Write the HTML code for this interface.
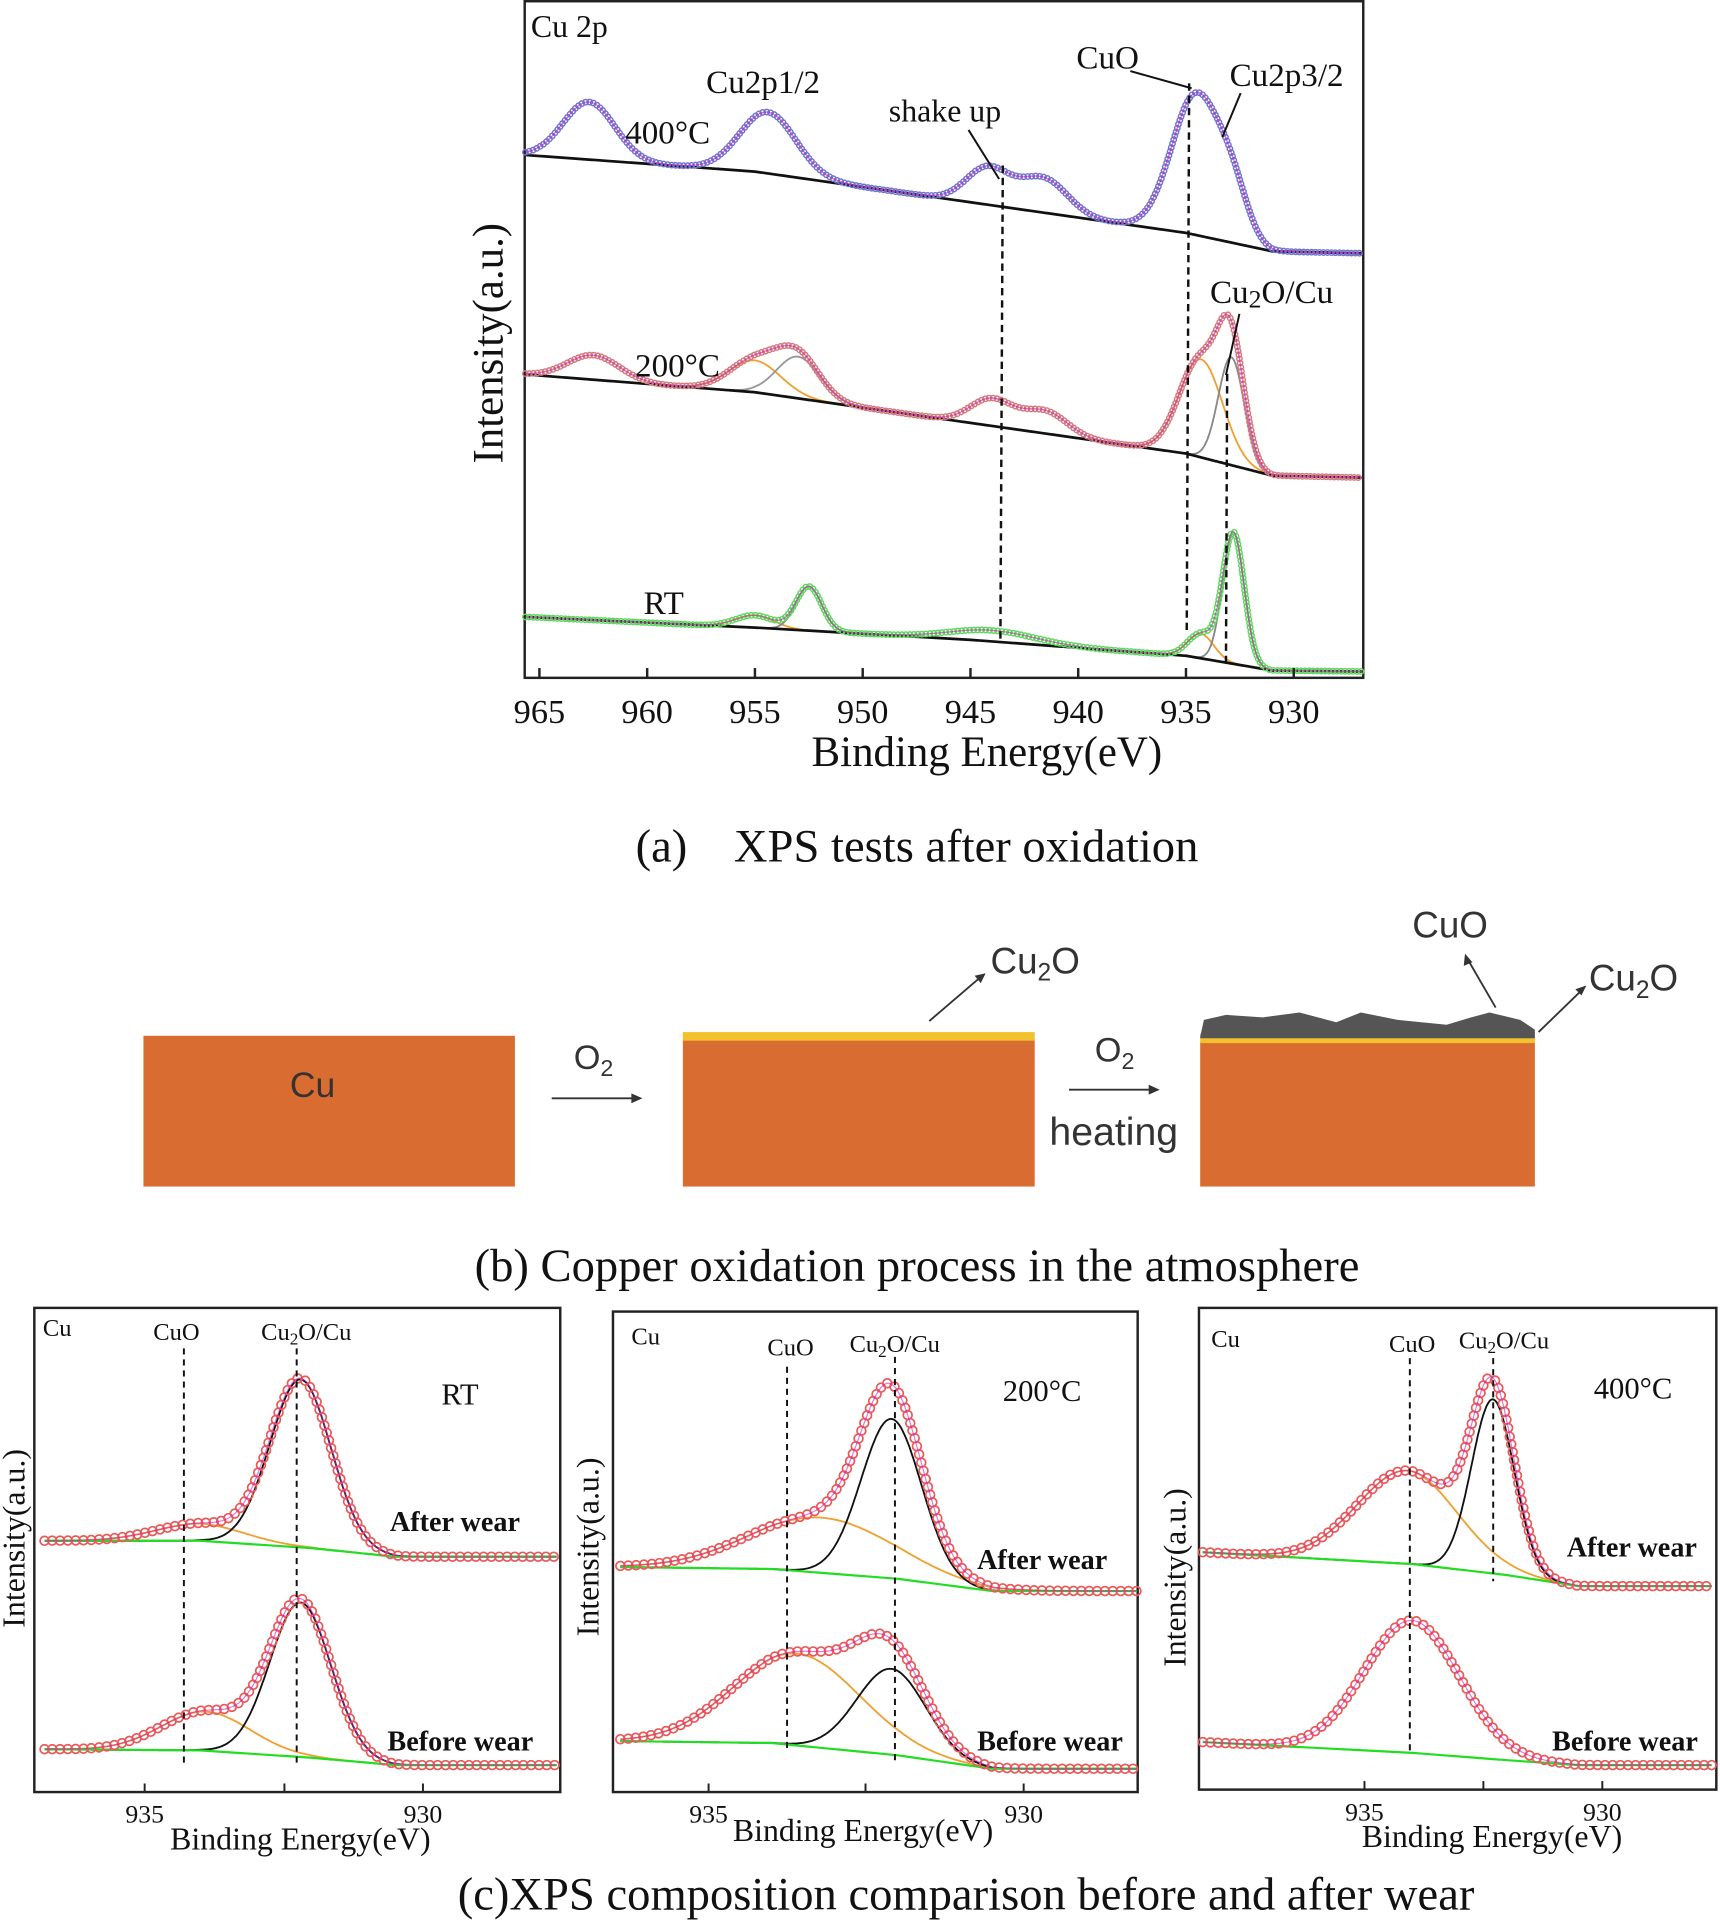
<!DOCTYPE html>
<html><head><meta charset="utf-8"><style>
html,body{margin:0;padding:0;background:#fff}
svg{display:block}
text{font-family:"Liberation Serif",serif;fill:#111}
.s{font-family:"Liberation Sans",sans-serif;fill:#333}
</style></head><body>
<svg id="c" width="1720" height="1922" viewBox="0 0 1403 1568" preserveAspectRatio="none" xmlns="http://www.w3.org/2000/svg">
<rect x="428" y="1" width="684" height="552" fill="none" stroke="#222" stroke-width="2"/>
<g id="ga"></g>
<text x="433" y="30" font-size="26">Cu 2p</text>
<text x="576" y="76" font-size="27">Cu2p1/2</text>
<text x="510" y="117" font-size="27">400°C</text>
<text x="725" y="99" font-size="26">shake up</text>
<text x="878" y="56" font-size="27">CuO</text>
<text x="1003" y="70" font-size="27">Cu2p3/2</text>
<text x="987" y="247" font-size="27">Cu<tspan font-size="21" dy="4">2</tspan><tspan dy="-4">O/Cu</tspan></text>
<text x="518" y="307" font-size="27">200°C</text>
<text x="525" y="501" font-size="27">RT</text>
<g stroke="#111" stroke-width="1.6" fill="none">
<line x1="790" y1="106" x2="815" y2="146"/>
<line x1="922" y1="58" x2="972" y2="72"/>
<line x1="1012" y1="76" x2="997" y2="112"/>
<line x1="1011" y1="256" x2="1000" y2="306"/>
</g>
<g stroke="#111" stroke-width="2" stroke-dasharray="6,4">
<line x1="818" y1="135" x2="816" y2="525"/>
<line x1="970" y1="68" x2="968" y2="518"/>
<line x1="1001" y1="305" x2="1000" y2="545"/>
</g>
<g id="ta" font-size="28"></g>
<text x="805" y="625" font-size="35" text-anchor="middle">Binding Energy(eV)</text>
<text transform="translate(410,280) rotate(-90)" font-size="35" text-anchor="middle">Intensity(a.u.)</text>
<text x="748" y="703" font-size="38" text-anchor="middle" xml:space="preserve">(a)    XPS tests after oxidation</text>

<rect x="117" y="845" width="303" height="123" fill="#d96c30"/>
<text class="s" x="255" y="895" font-size="29" text-anchor="middle">Cu</text>
<line x1="450" y1="896" x2="518" y2="896" stroke="#333" stroke-width="1.5"/><polygon points="524,896 515,892 515,900" fill="#333"/>
<text class="s" x="468" y="872" font-size="28">O<tspan font-size="19" dy="6">2</tspan></text>
<rect x="557" y="848" width="287" height="120" fill="#d96c30"/>
<rect x="557" y="842" width="287" height="7" fill="#f2c12e"/>
<line x1="758" y1="833" x2="800" y2="797" stroke="#333" stroke-width="1.5"/><polygon points="804,794 795,796 800,802" fill="#333"/>
<text class="s" x="808" y="794" font-size="30">Cu<tspan font-size="20" dy="6">2</tspan><tspan dy="-6">O</tspan></text>
<line x1="872" y1="889" x2="940" y2="889" stroke="#333" stroke-width="1.5"/><polygon points="946,889 937,885 937,893" fill="#333"/>
<text class="s" x="893" y="866" font-size="28">O<tspan font-size="19" dy="6">2</tspan></text>
<text class="s" x="856" y="934" font-size="32">heating</text>
<rect x="979" y="850" width="273" height="118" fill="#d96c30"/>
<rect x="979" y="843" width="273" height="8" fill="#f2c12e"/>
<path d="M979,846 L982,832 L1000,828 L1030,830 L1060,826 L1090,834 L1110,826 L1140,832 L1180,836 L1200,830 L1215,826 L1240,832 L1252,840 L1252,847 L979,847Z" fill="#555"/>
<line x1="1220" y1="822" x2="1198" y2="784" stroke="#333" stroke-width="1.5"/><polygon points="1195,778 1194,788 1201,785" fill="#333"/>
<text class="s" x="1152" y="765" font-size="30">CuO</text>
<line x1="1255" y1="842" x2="1290" y2="808" stroke="#333" stroke-width="1.5"/><polygon points="1294,804 1285,807 1290,812" fill="#333"/>
<text class="s" x="1296" y="808" font-size="30">Cu<tspan font-size="20" dy="6">2</tspan><tspan dy="-6">O</tspan></text>
<text x="748" y="1045" font-size="38" text-anchor="middle">(b) Copper oxidation process in the atmosphere</text>

<rect x="28" y="1067" width="429" height="395" fill="none" stroke="#222" stroke-width="2"/>
<rect x="500" y="1070" width="428" height="392" fill="none" stroke="#222" stroke-width="2"/>
<rect x="978" y="1067" width="422" height="393" fill="none" stroke="#222" stroke-width="2"/>
<g id="gc"></g>
<g font-size="20">
<text x="35" y="1090">Cu</text><text x="125" y="1093">CuO</text><text x="213" y="1093">Cu<tspan font-size="14" dy="4">2</tspan><tspan dy="-4">O/Cu</tspan></text>
<text x="515" y="1097">Cu</text><text x="626" y="1106">CuO</text><text x="693" y="1103">Cu<tspan font-size="14" dy="4">2</tspan><tspan dy="-4">O/Cu</tspan></text>
<text x="988" y="1099">Cu</text><text x="1133" y="1103">CuO</text><text x="1190" y="1100">Cu<tspan font-size="14" dy="4">2</tspan><tspan dy="-4">O/Cu</tspan></text>
</g>
<g font-size="25">
<text x="360" y="1146">RT</text><text x="818" y="1143">200°C</text><text x="1300" y="1141">400°C</text>
</g>
<g font-size="23" font-weight="bold">
<text x="318" y="1249">After wear</text><text x="316" y="1428">Before wear</text>
<text x="797" y="1280">After wear</text><text x="797" y="1428">Before wear</text>
<text x="1278" y="1270">After wear</text><text x="1266" y="1428">Before wear</text>
</g>
<g font-size="21">
<text x="118" y="1487" text-anchor="middle">935</text><text x="345" y="1487" text-anchor="middle">930</text>
<text x="578" y="1487" text-anchor="middle">935</text><text x="835" y="1487" text-anchor="middle">930</text>
<text x="1113" y="1485" text-anchor="middle">935</text><text x="1307" y="1485" text-anchor="middle">930</text>
</g>
<g font-size="26" text-anchor="middle">
<text x="245" y="1509">Binding Energy(eV)</text>
<text x="704" y="1502">Binding Energy(eV)</text>
<text x="1217" y="1507">Binding Energy(eV)</text>
<text transform="translate(20,1255) rotate(-90)">Intensity(a.u.)</text>
<text transform="translate(488,1262) rotate(-90)">Intensity(a.u.)</text>
<text transform="translate(967,1287) rotate(-90)">Intensity(a.u.)</text>
</g>
<text x="788" y="1558" font-size="38" text-anchor="middle">(c)XPS composition comparison before and after wear</text>
</svg>
<script>
var NS="http://www.w3.org/2000/svg";
function el(p,t,a){var e=document.createElementNS(NS,t);for(var k in a)e.setAttribute(k,a[k]);p.appendChild(e);return e;}
function interp(pts,E){for(var i=0;i<pts.length-1;i++){var a=pts[i],b=pts[i+1];if(E<=a[0]&&E>=b[0]){var t=(a[0]-E)/(a[0]-b[0]);return a[1]+t*(b[1]-a[1]);}}return E>pts[0][0]?pts[0][1]:pts[pts.length-1][1];}
function g(E,p){return p[1]*Math.exp(-Math.pow(E-p[0],2)/(2*p[2]*p[2]));}
function draw(par,o){
 var X=function(E){return o.x0+(o.e0-E)*o.k;};
 var tot=function(E){var y=interp(o.base,E);o.peaks.forEach(function(p){y-=g(E,p);});return y;};
 var step=0.02,pts=[],bl=[];
 for(var E=o.emax;E>=o.emin;E-=step){pts.push(X(E).toFixed(1)+","+tot(E).toFixed(1));bl.push(X(E).toFixed(1)+","+interp(o.base,E).toFixed(1));}
 o.peaks.forEach(function(p){if(!p[3])return;var c=[];for(var E=o.emax;E>=o.emin;E-=step){var v=g(E,p);c.push(X(E).toFixed(1)+","+(interp(o.base,E)-v).toFixed(1));}el(par,"polyline",{points:c.join(" "),fill:"none",stroke:p[3],"stroke-width":1.5});});
 el(par,"polyline",{points:bl.join(" "),fill:"none",stroke:o.bc,"stroke-width":o.bw||2});
 var last=-99;
 for(var E=o.emax;E>=o.emin;E-=0.005){var x=X(E),y=tot(E);var d=Math.hypot(x-last, y-(o._ly||0));if(d>=o.sp){el(par,"circle",{cx:x.toFixed(1),cy:y.toFixed(1),r:o.r,fill:"none",stroke:o.mc,"stroke-width":o.mw||1});last=x;o._ly=y;}}
 el(par,"polyline",{points:pts.join(" "),fill:"none",stroke:"#d020c0","stroke-width":1,opacity:0.6});
}
var ga=document.getElementById("ga");
var A={x0:440,e0:965,k:17.58,emax:965.65,emin:926.85,r:2.2,sp:3.2,mw:1.2,bc:"#111",bw:2.2};
draw(ga,Object.assign({},A,{mc:"#6f74d0",base:[[966,126],[955,140],[945,165],[935,190],[931,205],[926,207]],peaks:[[962.7,47,1.2],[954.4,50,1.3],[944.2,30,1.0],[941.6,28,1.1],[934.5,115,1.15],[932.8,30,0.7]]}));
draw(ga,Object.assign({},A,{mc:"#d47a7a",base:[[966,305],[955,320],[945,345],[935,370],[931,388],[926,390]],peaks:[[962.5,20,1.2],[955,26,1.2,"#f0a030"],[953,34,1.0,"#999"],[944,22,1.0],[941.5,18,1.0],[934.3,80,1.0,"#f0a030"],[932.9,88,0.6,"#888"]]}));
draw(ga,Object.assign({},A,{mc:"#5cd85c",base:[[966,503],[955,512],[945,522],[935,535],[931,547],[926,548]],peaks:[[955,10,0.9,"#f0a030"],[952.5,36,0.6,"#888"],[944,9,2],[934.3,20,0.6,"#f0a030"],[932.8,107,0.5,"#888"]]}));
var ta=document.getElementById("ta");
[965,960,955,950,945,940,935,930].forEach(function(v){var x=440+(965-v)*17.58;el(ta,"line",{x1:x,y1:553,x2:x,y2:545,stroke:"#222","stroke-width":2});var t=el(ta,"text",{x:x,y:590,"text-anchor":"middle"});t.textContent=v;});
var gc=document.getElementById("gc");
function C(o){draw(gc,Object.assign({r:3.6,sp:6.2,mw:1.4,mc:"#e85a5a",bc:"#22dd22",bw:1.8},o));}
C({x0:118,e0:935,k:45.4,emax:936.8,emin:927.6,base:[[937,1257],[934,1257],[932,1263],[930.5,1270],[927,1270]],peaks:[[934,14,0.8,"#f0a030"],[932.2,137,0.55,"#111"]]});
C({x0:118,e0:935,k:45.4,emax:936.8,emin:927.6,base:[[937,1427],[934,1428],[932,1434],[930.5,1440],[927,1440]],peaks:[[933.9,32,0.8,"#f0a030"],[932.2,126,0.55,"#111"]]});
C({x0:578,e0:935,k:51.4,emax:936.4,emin:928.2,base:[[937,1278],[934,1280],[932,1288],[930.5,1298],[928,1298]],peaks:[[933.2,45,1.15,"#f0a030"],[932.1,130,0.48,"#111"]]});
C({x0:578,e0:935,k:51.4,emax:936.4,emin:928.2,base:[[937,1420],[934,1422],[932,1432],[930.5,1443],[928,1443]],peaks:[[933.6,75,1.0,"#f0a030"],[932.1,70,0.55,"#111"]]});
C({x0:1113,e0:935,k:38.8,emax:938.4,emin:927.7,base:[[939,1265],[934,1276],[932,1285],[930.5,1294],[927,1294]],peaks:[[934.1,76,1.05,"#f0a030"],[932.3,142,0.45,"#111"]]});
C({x0:1113,e0:935,k:38.8,emax:938.4,emin:927.7,base:[[939,1420],[934,1430],[932,1436],[930.5,1440],[927,1440]],peaks:[[934,108,1.0]]});
[[150,1100,1440],[242,1100,1440],[642,1115,1428],[730,1107,1440],[1150,1108,1430],[1218,1108,1290]].forEach(function(d){el(gc,"line",{x1:d[0],y1:d[1],x2:d[0],y2:d[2],stroke:"#111","stroke-width":1.6,"stroke-dasharray":"5,4"});});
[[118,1462],[232,1462],[345,1462],[578,1462],[706,1462],[835,1462],[1113,1460],[1210,1460],[1307,1460]].forEach(function(t){el(gc,"line",{x1:t[0],y1:t[1],x2:t[0],y2:t[1]-7,stroke:"#222","stroke-width":1.6});});
</script>
</body></html>
